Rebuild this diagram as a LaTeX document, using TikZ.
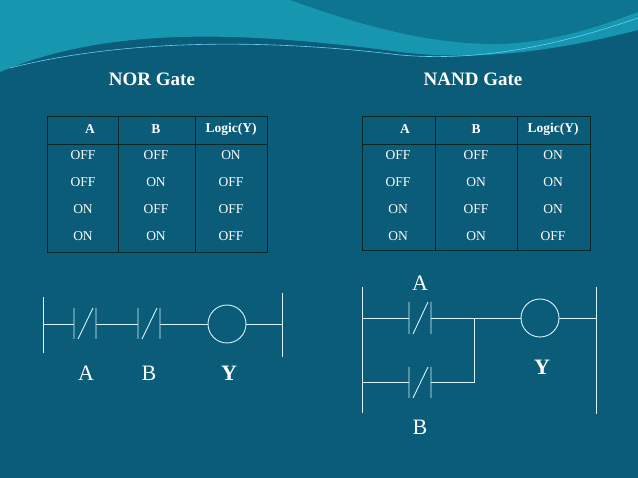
\documentclass[tikz,border=0pt]{standalone}
\usepackage{fontspec}
\setmainfont{Liberation Serif}
\begin{document}
\begin{tikzpicture}[x=1pt,y=-1pt,
  wire/.style={draw=white!85!cyan,line width=0.9pt},
  tab/.style={draw=black!70!teal,line width=0.9pt},
  cell/.style={text=white,font=\fontsize{13.5}{15}\selectfont},
  hcell/.style={text=white,font=\fontsize{13.5}{15}\selectfont\bfseries},
  ttl/.style={text=white,font=\fontsize{19}{21}\selectfont\bfseries},
  lab/.style={text=white,font=\fontsize{22}{24}\selectfont},
  blab/.style={text=white,font=\fontsize{22}{24}\selectfont\bfseries}]
\definecolor{bg}{HTML}{0A5C78}
\definecolor{wave}{HTML}{1796B0}
\definecolor{wave2}{HTML}{0E7590}
\useasboundingbox (0,0) rectangle (638,478);
\fill[bg] (0,0) rectangle (638,478);
\fill[wave] (0,0) -- (638,0) -- (638,30) .. controls (560,50) and (480,62) .. (400,52) .. controls (250,32) and (110,25) .. (0,72) -- cycle;
\fill[wave2] (290,0) .. controls (360,25) and (430,45) .. (500,44) .. controls (560,42) and (610,22) .. (638,12) -- (638,0) -- cycle;
\draw[cyan!60,line width=0.6pt] (10,68) .. controls (120,40) and (260,38) .. (400,55) .. controls (480,62) and (560,45) .. (638,18);
% titles
\node[ttl] (t1) at (152,79) {NOR Gate};
\node[ttl] (t2) at (473,79) {NAND Gate};
% NOR table
\draw[tab] (47,116) rectangle (267,252);
\draw[tab] (47,144) -- (267,144);
\draw[tab] (118,116) -- (118,252) (195,116) -- (195,252);
\node[hcell] (na) at (90,129) {A};
\node[hcell] (nb) at (156,129) {B};
\node[hcell] (nl) at (231,129) {Logic(Y)};
\foreach \a/\b/\y [count=\i] in {OFF/OFF/ON,OFF/ON/OFF,ON/OFF/OFF,ON/ON/OFF}{
  \node[cell] (nr\i a) at (83,{128+\i*27}) {\a};
  \node[cell] (nr\i b) at (156,{128+\i*27}) {\b};
  \node[cell] (nr\i c) at (231,{128+\i*27}) {\y};
}
% NAND table
\draw[tab] (362,116) rectangle (590,250);
\draw[tab] (362,144) -- (590,144);
\draw[tab] (435,116) -- (435,250) (517,116) -- (517,250);
\node[hcell] (ma) at (405,129) {A};
\node[hcell] (mb) at (476,129) {B};
\node[hcell] (ml) at (553,129) {Logic(Y)};
\foreach \a/\b/\y [count=\i] in {OFF/OFF/ON,OFF/ON/ON,ON/OFF/ON,ON/ON/OFF}{
  \node[cell] (mr\i a) at (398,{128+\i*27}) {\a};
  \node[cell] (mr\i b) at (476,{128+\i*27}) {\b};
  \node[cell] (mr\i c) at (553,{128+\i*27}) {\y};
}
% NOR ladder
\draw[wire] (43,297) -- (43,353);
\draw[wire] (282,293) -- (282,357);
\draw[wire] (74,308) -- (74,339) (96,308) -- (96,339) (78,339) -- (93,308);
\draw[wire] (138,308) -- (138,339) (160,308) -- (160,339) (142,339) -- (157,308);
\node[draw=white!85!cyan,line width=0.9pt,circle,minimum size=38pt,inner sep=0pt] (c1) at (227,324) {};
\draw[wire] (43,324) -- (74,324) (96,324) -- (138,324) (160,324) -- (c1.west) (c1.east) -- (282,324);
\node[lab] (la) at (86,373) {A};
\node[lab] (lb) at (149,373) {B};
\node[blab] (ly) at (229,373) {Y};
% NAND ladder
\draw[wire] (362,287) -- (362,413);
\draw[wire] (596,287) -- (596,414);
\draw[wire] (409,302) -- (409,334) (431,302) -- (431,334) (413,334) -- (428,302);
\draw[wire] (409,367) -- (409,398) (431,367) -- (431,398) (413,398) -- (428,367);
\node[draw=white!85!cyan,line width=0.9pt,circle,minimum size=38pt,inner sep=0pt] (c2) at (540,318) {};
\draw[wire] (362,318) -- (409,318) (431,318) -- (c2.west) (c2.east) -- (596,318);
\draw[wire] (362,382) -- (409,382) (431,382) -- (474,382) -- (474,318);
\node[lab] (ma2) at (420,283) {A};
\node[lab] (mb2) at (420,427) {B};
\node[blab] (my) at (542,367) {Y};
\end{tikzpicture}
\end{document}
